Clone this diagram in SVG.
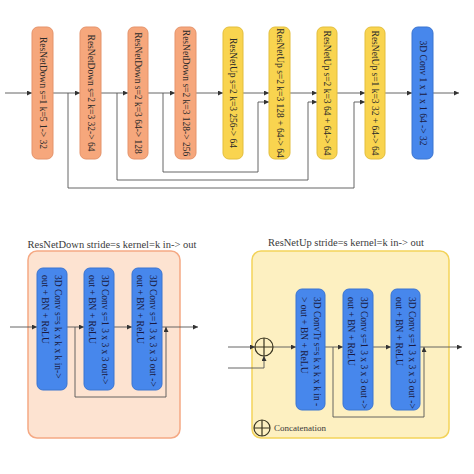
<svg xmlns="http://www.w3.org/2000/svg" width="474" height="474" viewBox="0 0 474 474" font-family="'Liberation Serif', 'Times New Roman', serif">
<defs>
<style>
.down{fill:#F6A77C;stroke:#E5936A;stroke-width:1}
.up{fill:#F9D44F;stroke:#E3BE3C;stroke-width:1}
.conv{fill:#4787EC;stroke:#3A74D0;stroke-width:1}
text{font-family:'Liberation Serif','Times New Roman',serif}
.t{font-size:9.5px;fill:#2a2a2a}
.ti{font-size:9.5px;fill:#1a1a40}
.title{font-size:10.5px;fill:#3a3a3a}
.lg{font-size:9px;fill:#3a3a3a}
.ln{fill:none;stroke:#555;stroke-width:0.9}
.cc{fill:none;stroke:#3a3520;stroke-width:1.2}
</style>
<marker id="ah" viewBox="0 0 6 6" refX="6" refY="3" markerWidth="5" markerHeight="5" orient="auto" markerUnits="userSpaceOnUse">
<path d="M0,0 L6,3 L0,6 z" fill="#333"/>
</marker>
</defs>
<rect width="474" height="474" fill="#fff"/>

<!-- containers -->
<g id="container-down">
<rect x="28" y="251" width="152" height="187" rx="9" fill="#FDE3D1" stroke="#F5A984" stroke-width="1.5"/>
<text class="title" x="112" y="248" text-anchor="middle">ResNetDown stride=s kernel=k in-&gt; out</text>
</g>
<g id="container-up">
<rect x="252" y="251" width="197" height="187" rx="9" fill="#FDF0C1" stroke="#F3D35A" stroke-width="1.5"/>
<text class="title" x="346" y="246" text-anchor="middle">ResNetUp stride=s kernel=k in-&gt; out</text>
</g>

<!-- connectors -->
<g id="connectors">
<path class="ln" d="M5,93 H32" marker-end="url(#ah)"/>
<path class="ln" d="M53,93 H80" marker-end="url(#ah)"/>
<path class="ln" d="M101,93 H128" marker-end="url(#ah)"/>
<path class="ln" d="M148,93 H175" marker-end="url(#ah)"/>
<path class="ln" d="M196,93 H223" marker-end="url(#ah)"/>
<path class="ln" d="M243,93 H269" marker-end="url(#ah)"/>
<path class="ln" d="M290,93 H317" marker-end="url(#ah)"/>
<path class="ln" d="M337,93 H365" marker-end="url(#ah)"/>
<path class="ln" d="M385,93 H412" marker-end="url(#ah)"/>
<path class="ln" d="M433,93 H459" marker-end="url(#ah)"/>
<path class="ln" d="M68,93 V188 H354 V102 H365" marker-end="url(#ah)"/>
<path class="ln" d="M117,93 V180 H308 V102 H317" marker-end="url(#ah)"/>
<path class="ln" d="M163,93 V172 H258 V102 H269" marker-end="url(#ah)"/>

<path class="ln" d="M10,327 H37" marker-end="url(#ah)"/>
<path class="ln" d="M67,327 H84" marker-end="url(#ah)"/>
<path class="ln" d="M114,327 H132" marker-end="url(#ah)"/>
<path class="ln" d="M162,327 H198" marker-end="url(#ah)"/>
<path class="ln" d="M75,327 V397 H166 V327" marker-end="url(#ah)"/>

<path class="ln" d="M228,347 H255" marker-end="url(#ah)"/>
<path class="ln" d="M228,368 H264 V356" marker-end="url(#ah)"/>
<path class="ln" d="M273,347 H296" marker-end="url(#ah)"/>
<path class="ln" d="M325,347 H343" marker-end="url(#ah)"/>
<path class="ln" d="M373,347 H391" marker-end="url(#ah)"/>
<path class="ln" d="M420,347 H462" marker-end="url(#ah)"/>
<path class="ln" d="M333,347 V417 H424 V347" marker-end="url(#ah)"/>
</g>

<!-- top row nodes -->
<g id="n1"><rect class="down" x="32" y="27" width="21" height="132" rx="6"/>
<text class="t" transform="translate(42.5,93) rotate(90)" x="0" y="3" text-anchor="middle">ResNetDown s=1 k=5 1-&gt; 32</text></g>
<g id="n2"><rect class="down" x="80" y="27" width="21" height="132" rx="6"/>
<text class="t" transform="translate(90.5,93) rotate(90)" x="0" y="3" text-anchor="middle">ResNetDown s=2 k=3 32-&gt; 64</text></g>
<g id="n3"><rect class="down" x="128" y="27" width="20" height="132" rx="6"/>
<text class="t" transform="translate(138,93) rotate(90)" x="0" y="3" text-anchor="middle">ResNetDown s=2 k=3 64-&gt; 128</text></g>
<g id="n4"><rect class="down" x="175" y="27" width="21" height="132" rx="6"/>
<text class="t" transform="translate(185.5,93) rotate(90)" x="0" y="3" text-anchor="middle">ResNetDown s=2 k=3 128-&gt; 256</text></g>
<g id="n5"><rect class="up" x="223" y="27" width="20" height="132" rx="6"/>
<text class="t" transform="translate(233,93) rotate(90)" x="0" y="3" text-anchor="middle">ResNetUp s=2 k=3 256-&gt; 64</text></g>
<g id="n6"><rect class="up" x="269" y="27" width="21" height="132" rx="6"/>
<text class="t" transform="translate(279.5,93) rotate(90)" x="0" y="3" text-anchor="middle">ResNetUp s=2 k=3 128 + 64-&gt; 64</text></g>
<g id="n7"><rect class="up" x="317" y="27" width="20" height="132" rx="6"/>
<text class="t" transform="translate(327,93) rotate(90)" x="0" y="3" text-anchor="middle">ResNetUp s=2 k=3 64 + 64-&gt; 64</text></g>
<g id="n8"><rect class="up" x="365" y="27" width="20" height="132" rx="6"/>
<text class="t" transform="translate(375,93) rotate(90)" x="0" y="3" text-anchor="middle">ResNetUp s=1 k=3 32 + 64-&gt; 64</text></g>
<g id="n9"><rect class="conv" x="412" y="27" width="21" height="132" rx="6"/>
<text class="ti" transform="translate(422.5,93) rotate(90)" x="0" y="3" text-anchor="middle">3D Conv 1 x 1 x 1 64 -&gt; 32</text></g>

<!-- ResNetDown detail -->
<g id="d1"><rect class="conv" x="37" y="268" width="30" height="122" rx="6"/>
<text class="ti" transform="translate(52,275) rotate(90)"><tspan x="0" y="-2.5">3D Conv s=s k x k x k in-&gt;</tspan><tspan x="0" y="10.5">out + BN + ReLU</tspan></text></g>
<g id="d2"><rect class="conv" x="84" y="268" width="30" height="122" rx="6"/>
<text class="ti" transform="translate(99,275) rotate(90)"><tspan x="0" y="-2.5">3D Conv s=1 3 x 3 x 3 out-&gt;</tspan><tspan x="0" y="10.5">out + BN + ReLU</tspan></text></g>
<g id="d3"><rect class="conv" x="132" y="268" width="30" height="122" rx="6"/>
<text class="ti" transform="translate(147,275) rotate(90)"><tspan x="0" y="-2.5">3D Conv s=1 3 x 3 x 3 out -&gt;</tspan><tspan x="0" y="10.5">out + BN + ReLU</tspan></text></g>

<!-- ResNetUp detail -->
<g id="concat"><circle class="cc" cx="264" cy="347" r="9"/><path class="cc" d="M255,347 H273 M264,338 V356"/></g>
<g id="u1"><rect class="conv" x="296" y="289" width="29" height="121" rx="6"/>
<text class="ti" transform="translate(310.5,297) rotate(90)"><tspan x="0" y="-3">3D ConvTr s=s k x k x k in -</tspan><tspan x="0" y="10">&gt; out + BN + ReLU</tspan></text></g>
<g id="u2"><rect class="conv" x="343" y="289" width="30" height="121" rx="6"/>
<text class="ti" transform="translate(358,297) rotate(90)"><tspan x="0" y="-3">3D Conv s=1 3 x 3 x 3 out -&gt;</tspan><tspan x="0" y="10">out + BN + ReLU</tspan></text></g>
<g id="u3"><rect class="conv" x="391" y="289" width="29" height="121" rx="6"/>
<text class="ti" transform="translate(405.5,297) rotate(90)"><tspan x="0" y="-3">3D Conv s=1 3 x 3 x 3 out -&gt;</tspan><tspan x="0" y="10">out + BN + ReLU</tspan></text></g>

<g id="legend"><circle class="cc" cx="262" cy="428" r="8"/><path class="cc" d="M254,428 H270 M262,420 V436"/>
<text class="lg" x="274" y="431">Concatenation</text></g>
</svg>
